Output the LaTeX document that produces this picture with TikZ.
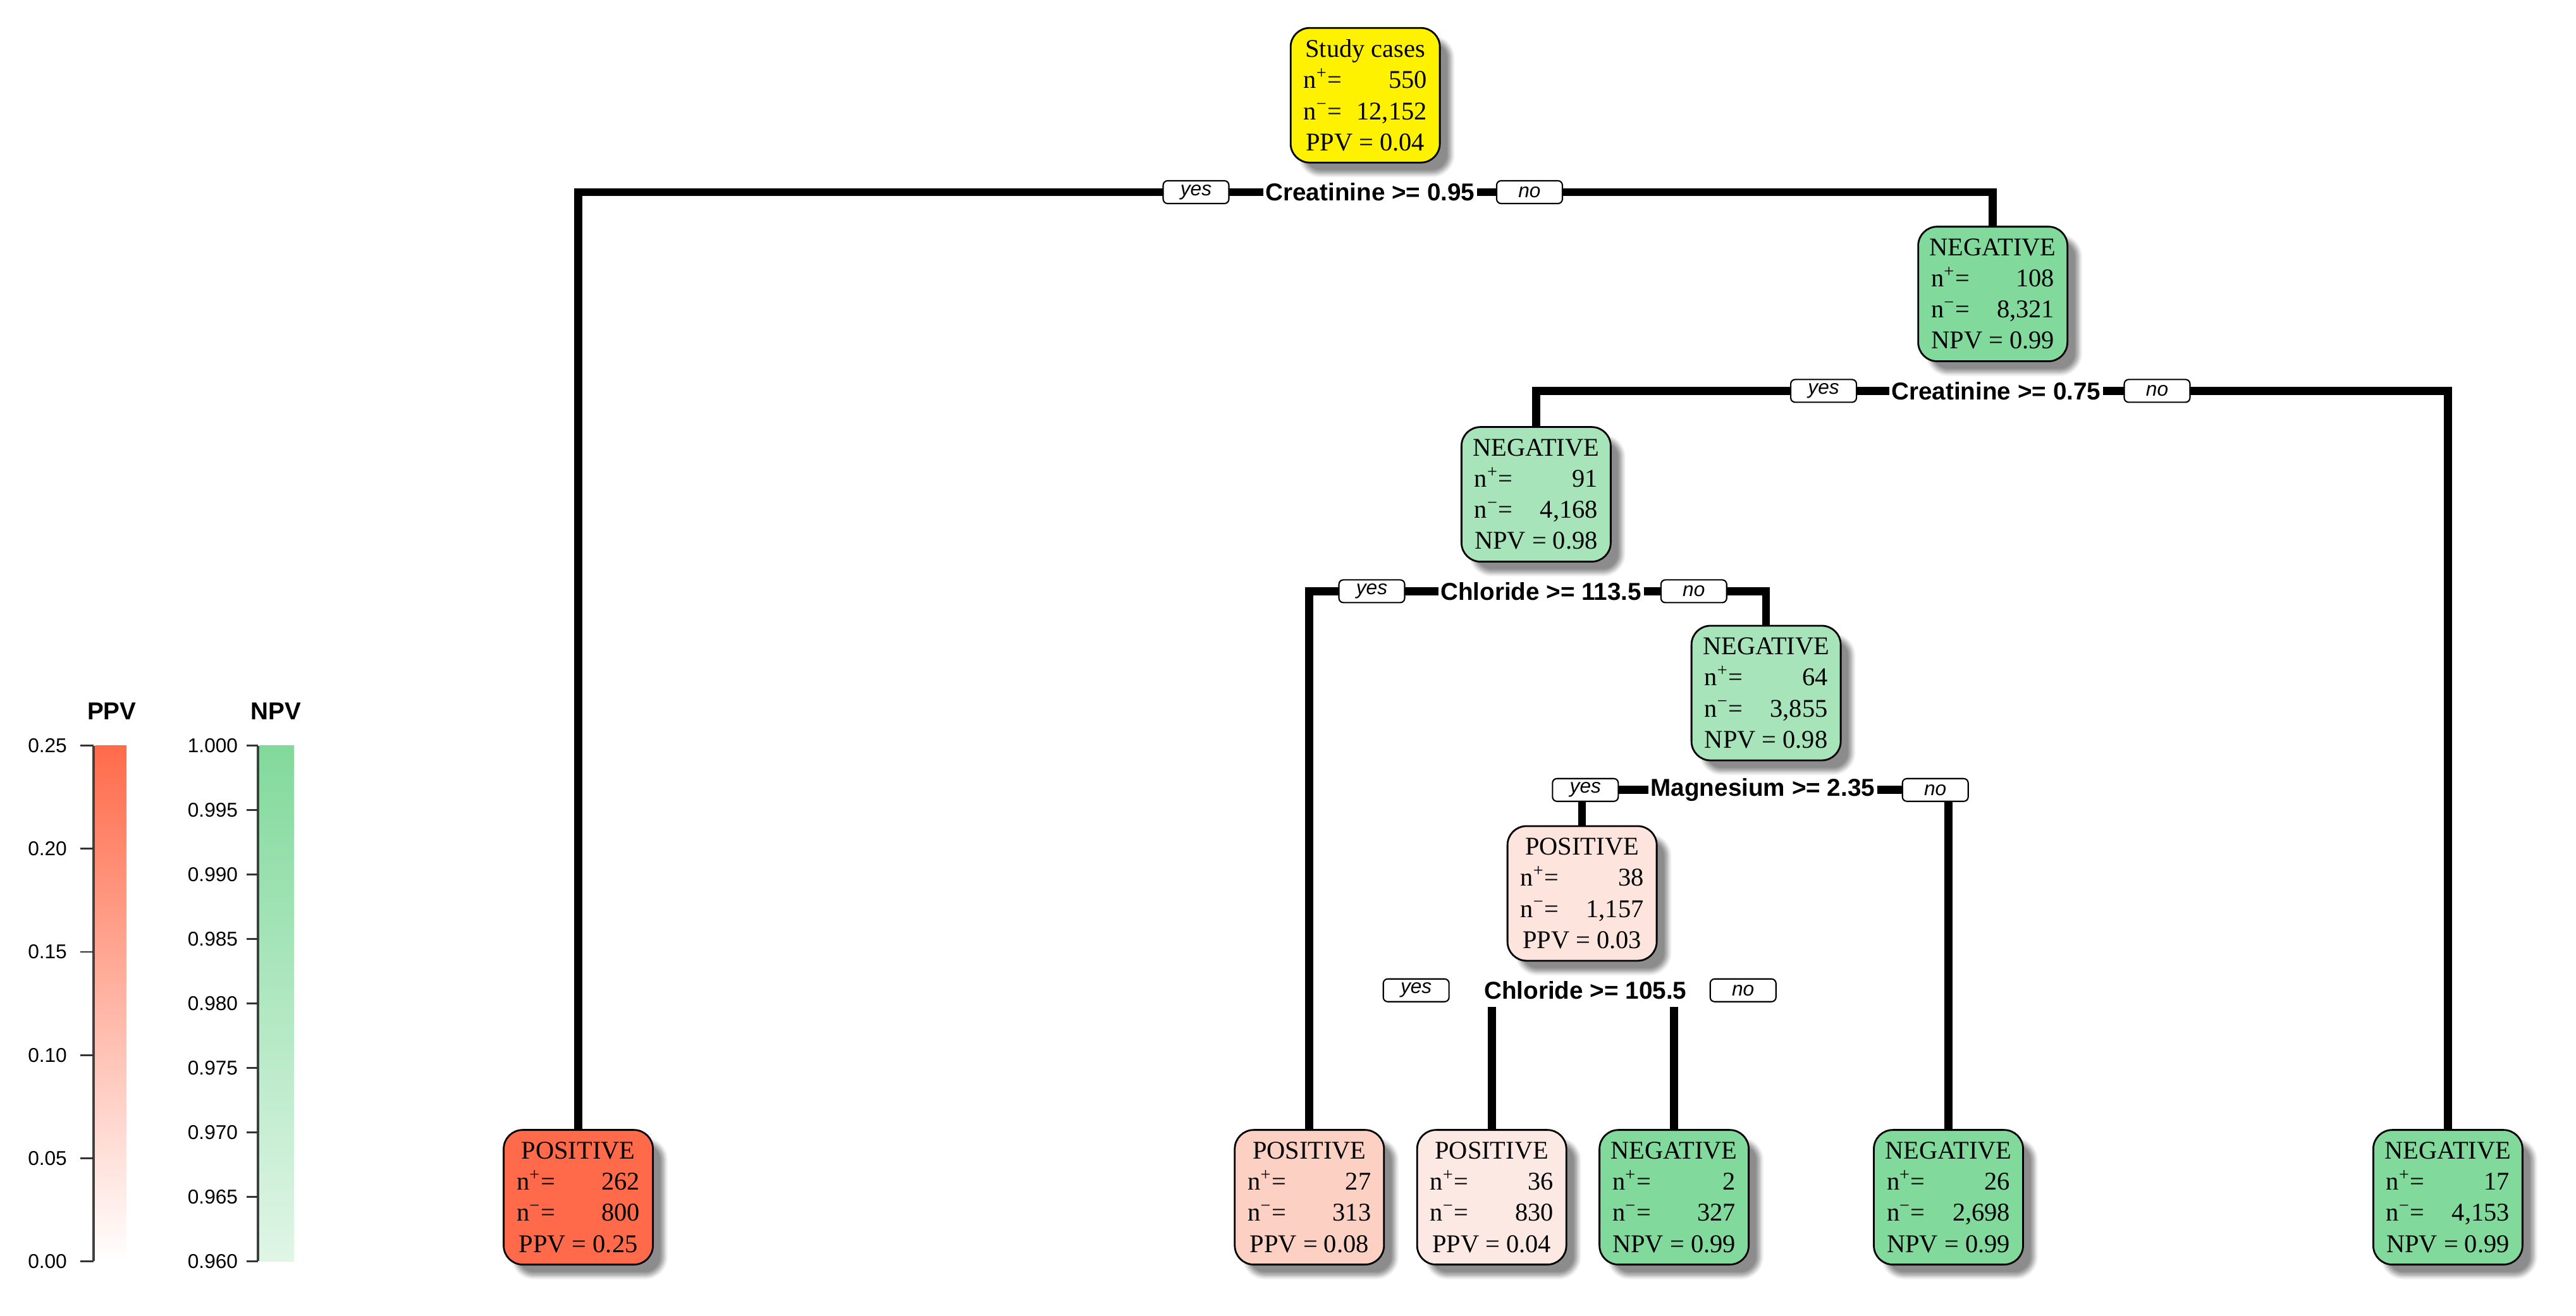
\documentclass[tikz,border=0pt]{standalone}
\usepackage{fontspec}
\setmainfont{Liberation Serif}
\newfontfamily\sansf{Liberation Sans}
\usetikzlibrary{shadows.blur}
\definecolor{rootc}{HTML}{FFF200}
\definecolor{gA}{HTML}{82D99C}
\definecolor{gB}{HTML}{A8E4BA}
\definecolor{pA}{HTML}{FF6B4A}
\definecolor{pB}{HTML}{FDD0C4}
\definecolor{pC}{HTML}{FDE9E4}
\definecolor{pD}{HTML}{FDE4DD}
\newcommand\tcont[4]{#1\\\makebox[1.95cm]{n\textsuperscript{+}=\hfill #2}\\\makebox[1.95cm]{n\textsuperscript{−}=\hfill #3}\\#4}
\tikzset{
  tn/.style={draw=black, line width=0.8pt, rounded corners=0.3cm, minimum width=2.36cm, minimum height=2.13cm,
    align=center, inner sep=1pt, font=\fontsize{11.5}{14}\selectfont, fill=#1,
    blur shadow={shadow xshift=5pt, shadow yshift=-5pt, shadow blur steps=8, shadow opacity=45}},
  edge/.style={line width=3.6pt},
  split/.style={fill=white, inner sep=1pt, font=\sansf\bfseries\fontsize{11}{13}\selectfont},
  yn/.style={draw=black, fill=white, line width=0.6pt, rounded corners=2pt, minimum width=1.04cm, minimum height=0.36cm, inner sep=0pt, font=\sansf\itshape\fontsize{9}{10}\selectfont},
  lab/.style={font=\sansf\fontsize{9}{10}\selectfont, anchor=east, inner sep=0pt},
  ttl/.style={font=\sansf\bfseries\fontsize{11}{12}\selectfont, inner sep=0pt}
}
\begin{document}
\begin{tikzpicture}[x=0.02598cm,y=-0.02598cm]
\useasboundingbox (0,0) rectangle (1568,801);
% nodes
\node[tn=rootc] (root) at (831,58) {\tcont{Study cases}{550}{12,152}{PPV = 0.04}};
\node[tn=gA] (n1) at (1213,179) {\tcont{NEGATIVE}{108}{8,321}{NPV = 0.99}};
\node[tn=gB] (n2) at (935,301) {\tcont{NEGATIVE}{91}{4,168}{NPV = 0.98}};
\node[tn=gB] (n3) at (1075,422) {\tcont{NEGATIVE}{64}{3,855}{NPV = 0.98}};
\node[tn=pD] (n4) at (963,544) {\tcont{POSITIVE}{38}{1,157}{PPV = 0.03}};
\node[tn=pA] (l1) at (352,729) {\tcont{POSITIVE}{262}{800}{PPV = 0.25}};
\node[tn=pB] (l2) at (797,729) {\tcont{POSITIVE}{27}{313}{PPV = 0.08}};
\node[tn=pC] (l3) at (908,729) {\tcont{POSITIVE}{36}{830}{PPV = 0.04}};
\node[tn=gA] (l4) at (1019,729) {\tcont{NEGATIVE}{2}{327}{NPV = 0.99}};
\node[tn=gA] (l5) at (1186,729) {\tcont{NEGATIVE}{26}{2,698}{NPV = 0.99}};
\node[tn=gA] (l6) at (1490,729) {\tcont{NEGATIVE}{17}{4,153}{NPV = 0.99}};
% edges
\coordinate (c1) at (831,117);
\coordinate (c2) at (1213,238);
\coordinate (c3) at (935,360);
\coordinate (c4) at (1075,481);
\coordinate (c5a) at (908,613);
\coordinate (c5b) at (1019,613);
\draw[edge] (l1.north) |- (c1) -| (n1.north);
\draw[edge] (n2.north) |- (c2) -| (l6.north);
\draw[edge] (l2.north) |- (c3) -| (n3.north);
\draw[edge] (n4.north) |- (c4) -| (l5.north);
\draw[edge] (c5a) -- (l3.north);
\draw[edge] (c5b) -- (l4.north);
% split labels
\node[split] (s1) at (834,117) {Creatinine >= 0.95};
\node[yn] (y1) at (728,117) {yes};
\node[yn] (o1) at (931,117) {no};
\node[split] (s2) at (1215,238) {Creatinine >= 0.75};
\node[yn] (y2) at (1110,238) {yes};
\node[yn] (o2) at (1313,238) {no};
\node[split] (s3) at (938,360) {Chloride >= 113.5};
\node[yn] (y3) at (835,360) {yes};
\node[yn] (o3) at (1031,360) {no};
\node[split] (s4) at (1073,481) {Magnesium >= 2.35};
\node[yn] (y4) at (965,481) {yes};
\node[yn] (o4) at (1178,481) {no};
\node[split] (s5) at (965,603) {Chloride >= 105.5};
\node[yn] (y5) at (862,603) {yes};
\node[yn] (o5) at (1061,603) {no};
% legend PPV
\shade[top color=pA, bottom color=white] (58,454) rectangle (77,768);
\draw[line width=1.2pt, black!75] (57,454) -- (57,768);
\node[ttl] (tp) at (68,433) {PPV};
\foreach \v [count=\i from 0] in {0.00,0.05,0.10,0.15,0.20,0.25}{
  \draw[line width=0.8pt, black!80] (49,768-62.8*\i) -- (57,768-62.8*\i);
  \node[lab] at (41,768-62.8*\i) {\v};
}
% legend NPV
\shade[top color=green!45!gA!90!black!0!gA, bottom color=gA!25] (158,454) rectangle (179,768);
\draw[line width=1.2pt, black!75] (157,454) -- (157,768);
\node[ttl] (tn) at (168,433) {NPV};
\foreach \v [count=\i from 0] in {0.960,0.965,0.970,0.975,0.980,0.985,0.990,0.995,1.000}{
  \draw[line width=0.8pt, black!80] (150,768-39.25*\i) -- (157,768-39.25*\i);
  \node[lab] at (145,768-39.25*\i) {\v};
}
\end{tikzpicture}
\end{document}
